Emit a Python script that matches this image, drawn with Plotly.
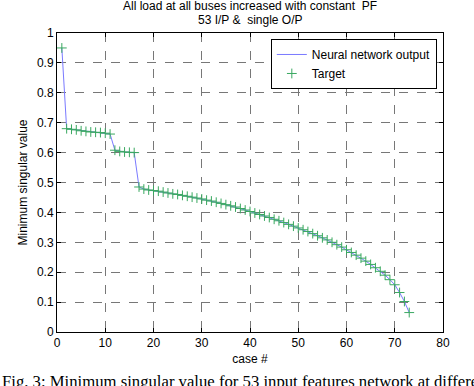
import plotly.graph_objects as go

case = list(range(1, 74))
target = [0.950, 0.680, 0.678, 0.676, 0.673, 0.671, 0.669, 0.668, 0.667, 0.665, 0.662,
          0.608, 0.604, 0.602, 0.601, 0.600,
          0.485, 0.478, 0.475, 0.473, 0.471, 0.468, 0.465, 0.462, 0.460, 0.457,
          0.454, 0.451, 0.448, 0.445, 0.441, 0.438, 0.434, 0.430, 0.426, 0.422,
          0.418, 0.413, 0.408, 0.403, 0.398, 0.393, 0.388, 0.383, 0.377, 0.372,
          0.366, 0.360, 0.354, 0.348, 0.342, 0.336, 0.329, 0.322, 0.315, 0.308,
          0.300, 0.292, 0.284, 0.275, 0.266, 0.257, 0.247, 0.237, 0.226, 0.215,
          0.203, 0.190, 0.175, 0.158, 0.132, 0.102, 0.065]
nn_output = list(target)

x_ticks = [0, 10, 20, 30, 40, 50, 60, 70, 80]
y_ticks = [0, 0.1, 0.2, 0.3, 0.4, 0.5, 0.6, 0.7, 0.8, 0.9, 1]

title_lines = ["All load at all buses increased with constant  PF", "53 I/P &amp;  single O/P"]
caption = "Fig. 3: Minimum singular value for 53 input features network at different loads"

FONT = "Liberation Sans, Arial"

fig = go.Figure()
fig.add_trace(go.Scatter(x=case, y=nn_output, mode="lines", name="Neural network output",
                         line=dict(color="#7a7aff", width=1)))
fig.add_trace(go.Scatter(x=case, y=target, mode="markers", name="Target",
                         marker=dict(symbol="cross-thin", size=7,
                                     line=dict(color="#3aa860", width=1))))

axis_common = dict(showline=True, linecolor="black", linewidth=1, mirror="ticks",
                   ticks="inside", ticklen=4, tickcolor="black",
                   showgrid=True, gridcolor="#777777", griddash="dash", gridwidth=1,
                   zeroline=False, tickfont=dict(family=FONT, size=12, color="black"))

fig.update_xaxes(range=[0, 80], tickvals=x_ticks, title=dict(text="case #", standoff=5,
                 font=dict(family=FONT, size=12, color="black")), **axis_common)
fig.update_yaxes(range=[0, 1], tickvals=y_ticks, title=dict(text="Minimum singular value", standoff=6,
                 font=dict(family=FONT, size=12, color="black")), **axis_common)

fig.update_layout(
    width=474, height=386,
    margin=dict(l=57, r=31, t=33, b=54),
    paper_bgcolor="white", plot_bgcolor="white",
    font=dict(family=FONT, size=12, color="black"),
    legend=dict(x=0.984, y=0.98, xanchor="right", yanchor="top",
                bgcolor="white", bordercolor="black", borderwidth=1,
                font=dict(family=FONT, size=12, color="black"),
                tracegroupgap=0, itemwidth=30),
    showlegend=True,
)

plot_h = 386 - 33 - 54
for line, off in zip(title_lines, [27, 13]):
    fig.add_annotation(text=line, xref="paper", yref="paper", x=0.5, y=1 + off / plot_h,
                       xanchor="center", yanchor="middle", showarrow=False,
                       font=dict(family=FONT, size=12, color="black"))

fig.add_annotation(text=caption, xref="paper", yref="paper", x=-57 / 386, y=-(381 - 332) / plot_h,
                   xanchor="left", yanchor="middle", showarrow=False,
                   font=dict(family="Liberation Serif, Times New Roman", size=16.7, color="black"))

fig.write_html("out.html", config={"displayModeBar": False},
               post_script="document.body.style.margin='0';document.body.style.overflow='hidden';")
